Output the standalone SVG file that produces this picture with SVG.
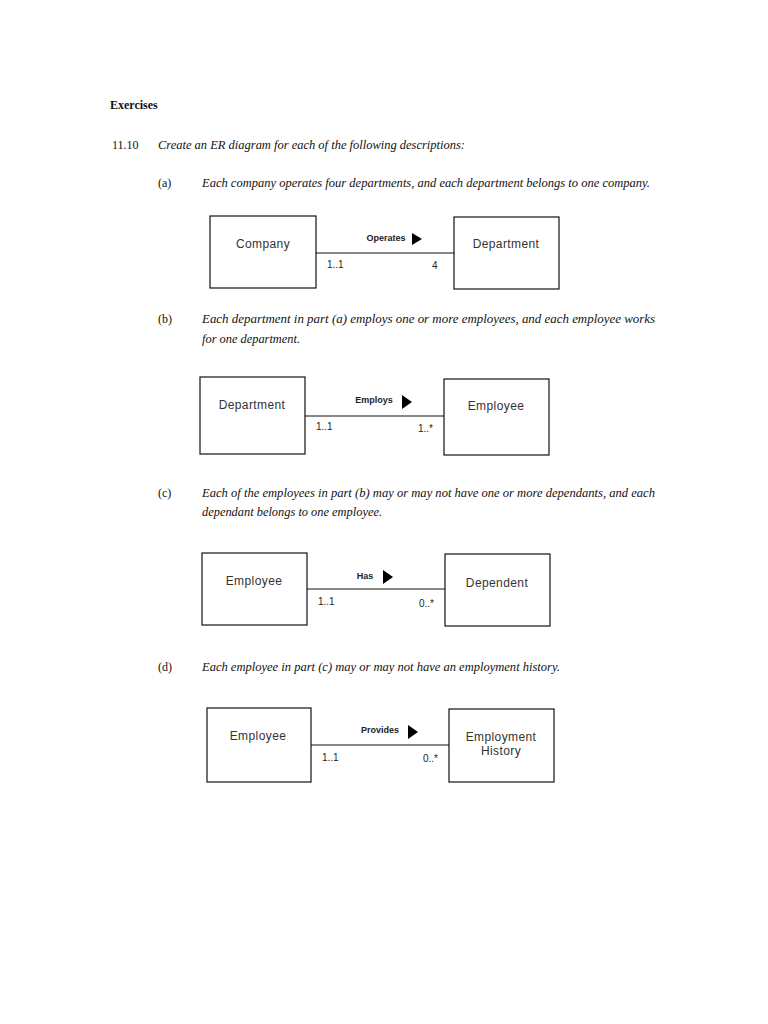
<svg xmlns="http://www.w3.org/2000/svg" width="768" height="1024" viewBox="0 0 768 1024">
<style>
.bg{fill:#fff}
.t{font-family:"Liberation Serif","Times New Roman",serif;font-size:12px;fill:#111}
.i{font-style:italic}
.b{font-weight:bold}
.box{fill:#fff;stroke:#111;stroke-width:1.2}
.ln{stroke:#111;stroke-width:1.2;fill:none}
.n{font-family:"Liberation Sans",Arial,sans-serif;font-size:12px;fill:#333;text-anchor:middle;letter-spacing:0.4px}
.r{font-family:"Liberation Sans",Arial,sans-serif;font-size:9px;font-weight:bold;fill:#222;text-anchor:middle}
.m{font-family:"Liberation Sans",Arial,sans-serif;font-size:10px;fill:#222}
.tri{fill:#000}
</style>
<rect class="bg" x="0" y="0" width="768" height="1024"/>
<g id="texts">
<text class="t b" x="110" y="109">Exercises</text>
<text class="t" x="112" y="149">11.10</text>
<text class="t i" x="158" y="149" textLength="307" lengthAdjust="spacingAndGlyphs">Create an ER diagram for each of the following descriptions:</text>
<text class="t" x="158" y="187">(a)</text>
<text class="t i" x="202" y="187" textLength="448" lengthAdjust="spacingAndGlyphs">Each company operates four departments, and each department belongs to one company.</text>
<text class="t" x="158" y="323">(b)</text>
<text class="t i" x="202" y="323" textLength="453" lengthAdjust="spacingAndGlyphs">Each department in part (a) employs one or more employees, and each employee works</text>
<text class="t i" x="202" y="343" textLength="98" lengthAdjust="spacingAndGlyphs">for one department.</text>
<text class="t" x="158" y="497">(c)</text>
<text class="t i" x="202" y="497" textLength="453" lengthAdjust="spacingAndGlyphs">Each of the employees in part (b) may or may not have one or more dependants, and each</text>
<text class="t i" x="202" y="516" textLength="180" lengthAdjust="spacingAndGlyphs">dependant belongs to one employee.</text>
<text class="t" x="158" y="671">(d)</text>
<text class="t i" x="202" y="671" textLength="358" lengthAdjust="spacingAndGlyphs">Each employee in part (c) may or may not have an employment history.</text>
</g>
<g id="connectors">
<line class="ln" x1="316" y1="253" x2="454" y2="253"/>
<text class="r" x="386" y="241">Operates</text>
<polygon class="tri" points="412,233 422,239 412,245"/>
<text class="m" x="327" y="268">1..1</text>
<text class="m" x="432" y="269">4</text>

<line class="ln" x1="305" y1="416" x2="444" y2="416"/>
<text class="r" x="374" y="403">Employs</text>
<polygon class="tri" points="402,395 412,402 402,409"/>
<text class="m" x="316" y="430">1..1</text>
<text class="m" x="418" y="432">1..*</text>

<line class="ln" x1="307" y1="589" x2="445" y2="589"/>
<text class="r" x="365" y="579">Has</text>
<polygon class="tri" points="383,570 393,577 383,584"/>
<text class="m" x="318" y="605">1..1</text>
<text class="m" x="419" y="607">0..*</text>

<line class="ln" x1="311" y1="745" x2="449" y2="745"/>
<text class="r" x="380" y="733">Provides</text>
<polygon class="tri" points="408,725 418,732 408,739"/>
<text class="m" x="322" y="761">1..1</text>
<text class="m" x="423" y="762">0..*</text>
</g>
<g id="a-company"><rect class="box" x="210" y="216" width="106" height="72"/><text class="n" x="263" y="248">Company</text></g>
<g id="a-department"><rect class="box" x="454" y="217" width="105" height="72"/><text class="n" x="506" y="248">Department</text></g>
<g id="b-department"><rect class="box" x="200" y="377" width="105" height="77"/><text class="n" x="252" y="409">Department</text></g>
<g id="b-employee"><rect class="box" x="444" y="379" width="105" height="76"/><text class="n" x="496" y="410">Employee</text></g>
<g id="c-employee"><rect class="box" x="202" y="553" width="105" height="72"/><text class="n" x="254" y="585">Employee</text></g>
<g id="c-dependent"><rect class="box" x="445" y="554" width="105" height="72"/><text class="n" x="497" y="587">Dependent</text></g>
<g id="d-employee"><rect class="box" x="207" y="708" width="104" height="74"/><text class="n" x="258" y="740">Employee</text></g>
<g id="d-history"><rect class="box" x="449" y="709" width="105" height="73"/><text class="n" x="501" y="741">Employment</text><text class="n" x="501" y="755">History</text></g>
</svg>
